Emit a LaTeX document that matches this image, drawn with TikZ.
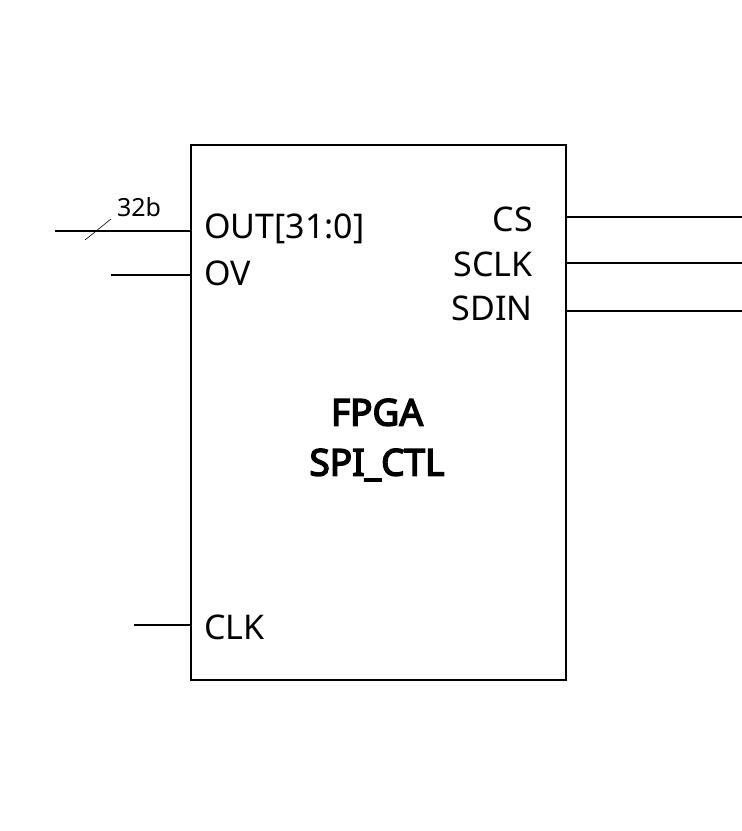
\documentclass[tikz,border=0pt]{standalone}
\usepackage{fontspec}
\setmainfont{Noto Sans}
\newfontfamily\titlefont{Noto Sans}[AutoFakeBold=4]
\begin{document}
\begin{tikzpicture}[x=1pt,y=-1pt,
  pin/.style={font=\fontsize{34}{36}\selectfont,inner sep=0pt},
  wire/.style={line width=1.5pt}]
\useasboundingbox (0,0) rectangle (742,831);
\node[draw,line width=1.5pt,minimum width=375pt,minimum height=535pt,anchor=north west,inner sep=0pt] (box) at (190,144) {};
\node[font=\titlefont\bfseries\fontsize{37}{50}\selectfont,align=center] (title) at (377,440) {FPGA\\SPI\_CTL};
% left pins
\node[pin,anchor=west] (out) at (204,229) {OUT[31:0]};
\node[pin,anchor=west] (ov) at (204,273) {OV};
\node[pin,anchor=west] (clk) at (204,627) {CLK};
\coordinate (outL) at (55,231);
\coordinate (ovL) at (111,275);
\coordinate (clkL) at (134,625);
\draw[line width=2.2pt] (outL) -- (outL -| box.west);
\draw[wire] (ovL) -- (ovL -| box.west);
\draw[wire] (clkL) -- (clkL -| box.west);
\coordinate (s1) at (85,240);
\coordinate (s2) at (111,219);
\draw[line width=0.6pt] (s1) -- (s2);
\node[font=\fontsize{25}{26}\selectfont,inner sep=0pt] (bus) at (139,207) {32b};
% right pins
\node[pin,anchor=east] (cs) at (533,219) {CS};
\node[pin,anchor=east] (sclk) at (533,264) {SCLK};
\node[pin,anchor=east] (sdin) at (533,308) {SDIN};
\coordinate (csR) at (742,217);
\coordinate (sclkR) at (742,263);
\coordinate (sdinR) at (742,311);
\draw[wire] (csR -| box.east) -- (csR);
\draw[wire] (sclkR -| box.east) -- (sclkR);
\draw[wire] (sdinR -| box.east) -- (sdinR);
\end{tikzpicture}
\end{document}
